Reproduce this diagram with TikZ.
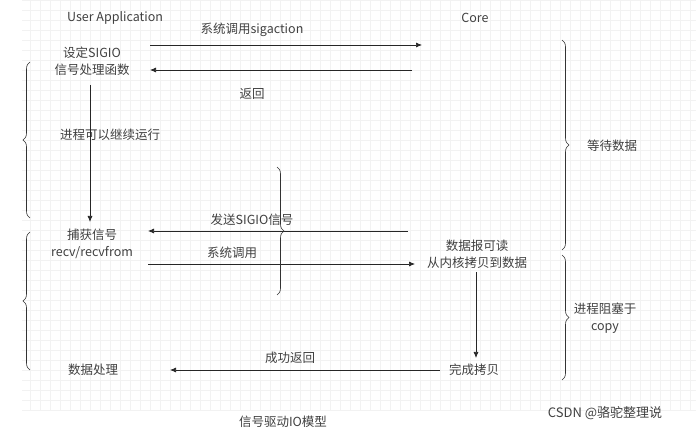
\documentclass[tikz,border=0pt]{standalone}
\usepackage{fontspec}
\setmainfont{Noto Sans CJK SC}
\usetikzlibrary{decorations.pathreplacing,arrows.meta}
\tikzset{
  lbl/.style={font=\fontsize{12.5}{17}\selectfont, text=black!75, align=center},
  msg/.style={-{Latex[length=6pt,width=5pt]}, black!85, line width=0.7pt},
  brc/.style={decorate, decoration={brace, amplitude=7pt}, black!80, line width=0.6pt},
}
\begin{document}
\begin{tikzpicture}[x=1pt,y=-1pt]
  \useasboundingbox (0,0) rectangle (696,435);
  % faint grid
  \draw[black!5, line width=0.4pt, step=10pt] (22,0) grid (696,410);
  % headers
  \node[lbl] (app) at (115,18) {User Application};
  \node[lbl] (core) at (475,18) {Core};
  % user side
  \node[lbl] (setup) at (92,61) {设定SIGIO\\信号处理函数};
  \node[lbl] (cont) at (110,135) {进程可以继续运行};
  \node[lbl] (catch) at (92,244) {捕获信号\\recv/recvfrom};
  \node[lbl] (proc) at (93,370) {数据处理};
  % core side
  \node[lbl] (ready) at (477,254) {数据报可读\\从内核拷贝到数据};
  \node[lbl] (done) at (474,370) {完成拷贝};
  \node[lbl] (wait) at (612,146) {等待数据};
  \node[lbl] (block) at (605,318) {进程阻塞于\\copy};
  \node[lbl] (title) at (283,422) {信号驱动IO模型};
  \node[lbl, font=\fontsize{13}{15}\selectfont] (mark) at (605,413) {CSDN @骆驼整理说};
  % edge labels
  \node[lbl] (l1) at (252,30) {系统调用sigaction};
  \node[lbl] (l2) at (252,94) {返回};
  \node[lbl] (l3) at (252,220) {发送SIGIO信号};
  \node[lbl] (l4) at (232,253) {系统调用};
  \node[lbl] (l5) at (290,358) {成功返回};
  % connectors
  \coordinate (s1) at (150,45);  \coordinate (e1) at (422,45);
  \coordinate (s2) at (412,70);  \coordinate (e2) at (150,70);
  \coordinate (s3) at (408,231); \coordinate (e3) at (148,231);
  \coordinate (s4) at (148,264); \coordinate (e4) at (415,264);
  \coordinate (s5) at (440,370); \coordinate (e5) at (170,370);
  \coordinate (s6) at (476,272); \coordinate (e6) at (476,358);
  \draw[msg] (s1) -- (e1);
  \draw[msg] (s2) -- (e2);
  \draw[msg] (90,85) -- (90,222);
  \draw[msg] (s3) -- (e3);
  \draw[msg] (s4) -- (e4);
  \draw[msg] (s6) -- (e6);
  \draw[msg] (s5) -- (e5);
  % braces
  \draw[brc] (30,218) -- (30,62);
  \draw[brc] (30,370) -- (30,232);
  \draw[brc] (277,167) -- (277,295);
  \draw[brc] (562,40) -- (562,250);
  \draw[brc] (562,255) -- (562,380);
\end{tikzpicture}
\end{document}
